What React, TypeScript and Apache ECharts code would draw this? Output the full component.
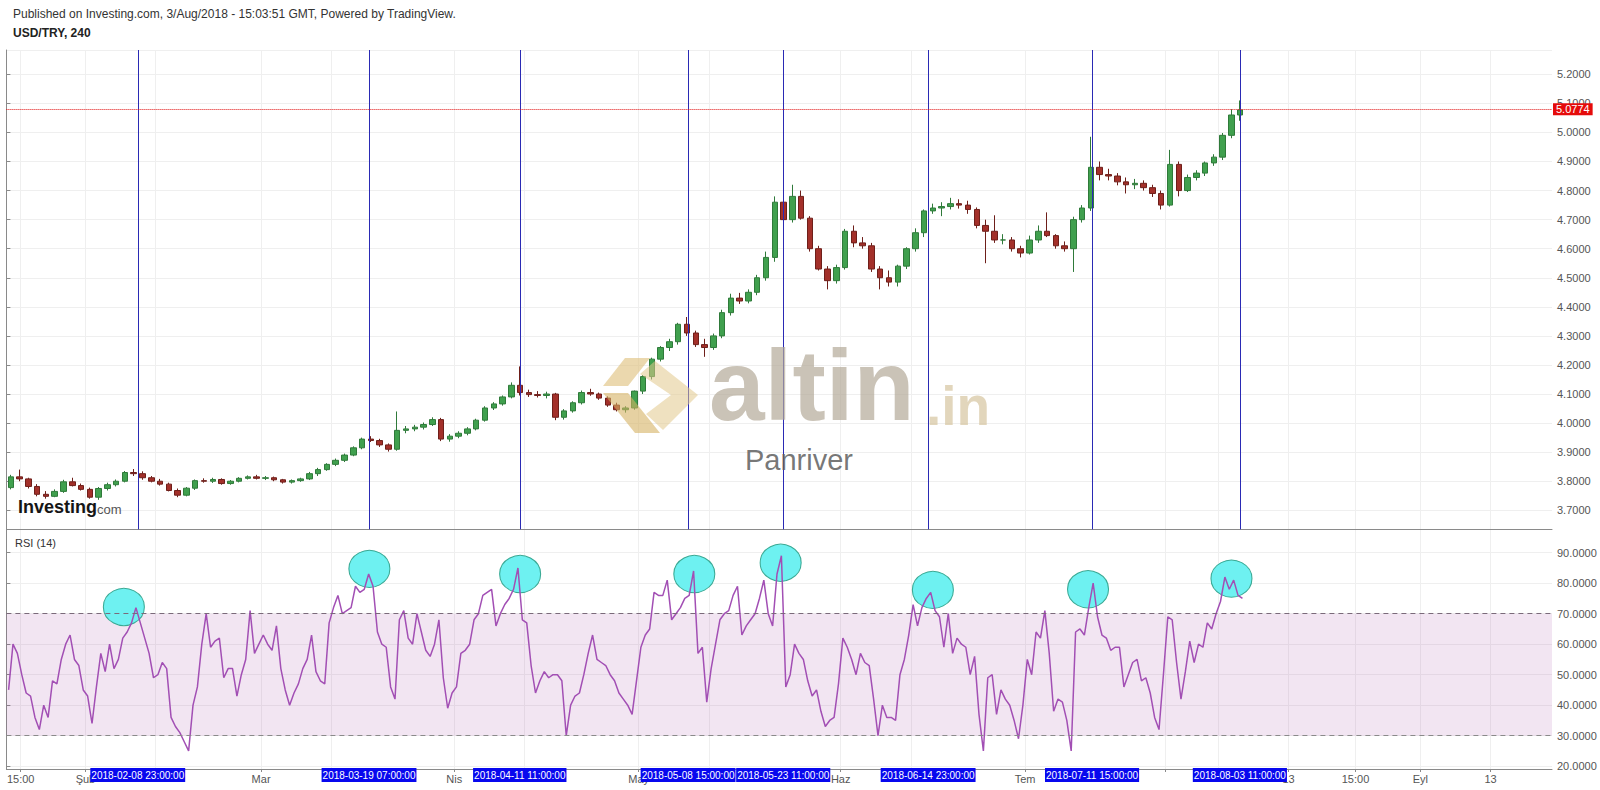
import { useEffect, useRef } from 'react';
import * as echarts from 'echarts';

const FONT = '"Liberation Sans", Arial, Helvetica, sans-serif';

// trading days (4h FX chart, weekends removed) from first bar to the end of the future space
const START_DAY = '2018-01-19';
const END_DAY = '2018-09-21';

// daily OHLC: [open, high, low, close]
const candles: [number, number, number, number][] = [
  [3.778, 3.822, 3.772, 3.815], [3.815, 3.840, 3.800, 3.808], [3.808, 3.812, 3.775, 3.782], [3.782, 3.790, 3.748, 3.755],
  [3.755, 3.766, 3.740, 3.748], [3.748, 3.772, 3.745, 3.765], [3.765, 3.805, 3.760, 3.798], [3.798, 3.812, 3.782, 3.785],
  [3.785, 3.792, 3.768, 3.772], [3.772, 3.778, 3.740, 3.745], [3.745, 3.780, 3.736, 3.775], [3.775, 3.795, 3.768, 3.788],
  [3.788, 3.806, 3.782, 3.800], [3.800, 3.835, 3.796, 3.830], [3.830, 3.842, 3.818, 3.826], [3.826, 3.834, 3.805, 3.812],
  [3.812, 3.818, 3.796, 3.800], [3.800, 3.808, 3.785, 3.790], [3.790, 3.795, 3.765, 3.768], [3.768, 3.775, 3.745, 3.752],
  [3.752, 3.780, 3.748, 3.776], [3.776, 3.806, 3.770, 3.802], [3.802, 3.810, 3.795, 3.800], [3.800, 3.812, 3.794, 3.806],
  [3.806, 3.810, 3.788, 3.792], [3.792, 3.804, 3.788, 3.800], [3.800, 3.814, 3.796, 3.810], [3.810, 3.820, 3.806, 3.815],
  [3.815, 3.822, 3.806, 3.810], [3.810, 3.818, 3.804, 3.812], [3.812, 3.816, 3.800, 3.805], [3.805, 3.808, 3.792, 3.797],
  [3.797, 3.806, 3.792, 3.802], [3.802, 3.812, 3.798, 3.808], [3.808, 3.832, 3.804, 3.826], [3.826, 3.846, 3.818, 3.840],
  [3.840, 3.862, 3.836, 3.858], [3.858, 3.878, 3.852, 3.872], [3.872, 3.895, 3.866, 3.890], [3.890, 3.920, 3.886, 3.915],
  [3.915, 3.950, 3.910, 3.945], [3.945, 3.955, 3.935, 3.940], [3.940, 3.946, 3.918, 3.925], [3.925, 3.930, 3.902, 3.910],
  [3.910, 4.040, 3.905, 3.975], [3.975, 3.990, 3.965, 3.980], [3.980, 3.994, 3.972, 3.986], [3.986, 4.002, 3.978, 3.995],
  [3.995, 4.020, 3.990, 4.012], [4.012, 4.018, 3.938, 3.945], [3.945, 3.962, 3.936, 3.955], [3.955, 3.972, 3.948, 3.965],
  [3.965, 3.986, 3.958, 3.980], [3.980, 4.015, 3.975, 4.010], [4.010, 4.058, 4.005, 4.052], [4.052, 4.072, 4.045, 4.066],
  [4.066, 4.095, 4.060, 4.090], [4.090, 4.140, 4.085, 4.130], [4.130, 4.195, 4.095, 4.105], [4.105, 4.115, 4.090, 4.098],
  [4.098, 4.110, 4.088, 4.095], [4.095, 4.108, 4.085, 4.100], [4.100, 4.104, 4.010, 4.020], [4.020, 4.048, 4.012, 4.042],
  [4.042, 4.075, 4.036, 4.070], [4.070, 4.112, 4.064, 4.105], [4.105, 4.118, 4.094, 4.100], [4.100, 4.105, 4.080, 4.086],
  [4.086, 4.092, 4.056, 4.062], [4.062, 4.070, 4.040, 4.046], [4.046, 4.058, 4.036, 4.052], [4.052, 4.112, 4.046, 4.110],
  [4.110, 4.165, 4.100, 4.160], [4.160, 4.225, 4.150, 4.220], [4.220, 4.265, 4.212, 4.260], [4.260, 4.290, 4.248, 4.280],
  [4.280, 4.345, 4.270, 4.340], [4.340, 4.365, 4.300, 4.310], [4.310, 4.318, 4.262, 4.270], [4.270, 4.290, 4.228, 4.260],
  [4.260, 4.308, 4.252, 4.300], [4.300, 4.390, 4.292, 4.380], [4.380, 4.445, 4.370, 4.430], [4.430, 4.448, 4.410, 4.420],
  [4.420, 4.460, 4.412, 4.450], [4.450, 4.510, 4.440, 4.500], [4.500, 4.590, 4.490, 4.570], [4.570, 4.780, 4.555, 4.760],
  [4.760, 4.930, 4.560, 4.700], [4.700, 4.820, 4.690, 4.780], [4.780, 4.800, 4.700, 4.705], [4.705, 4.712, 4.590, 4.600],
  [4.600, 4.610, 4.525, 4.530], [4.530, 4.540, 4.460, 4.490], [4.490, 4.545, 4.480, 4.535], [4.535, 4.668, 4.528, 4.660],
  [4.660, 4.680, 4.605, 4.620], [4.620, 4.640, 4.600, 4.610], [4.610, 4.620, 4.520, 4.530], [4.530, 4.540, 4.460, 4.500],
  [4.500, 4.525, 4.470, 4.485], [4.485, 4.545, 4.470, 4.540], [4.540, 4.605, 4.530, 4.600], [4.600, 4.670, 4.590, 4.655],
  [4.655, 4.735, 4.640, 4.730], [4.730, 4.755, 4.720, 4.740], [4.740, 4.760, 4.712, 4.745], [4.745, 4.775, 4.735, 4.755],
  [4.755, 4.770, 4.738, 4.750], [4.750, 4.765, 4.720, 4.735], [4.735, 4.742, 4.670, 4.680], [4.680, 4.700, 4.550, 4.660],
  [4.660, 4.715, 4.620, 4.630], [4.630, 4.650, 4.615, 4.630], [4.630, 4.640, 4.590, 4.600], [4.600, 4.610, 4.570, 4.585],
  [4.585, 4.645, 4.580, 4.630], [4.630, 4.680, 4.620, 4.660], [4.660, 4.725, 4.640, 4.645], [4.645, 4.650, 4.600, 4.610],
  [4.610, 4.625, 4.590, 4.600], [4.600, 4.710, 4.520, 4.700], [4.700, 4.750, 4.690, 4.740], [4.740, 4.985, 4.730, 4.880],
  [4.880, 4.900, 4.835, 4.855], [4.855, 4.875, 4.835, 4.850], [4.850, 4.860, 4.818, 4.830], [4.830, 4.845, 4.790, 4.820],
  [4.820, 4.840, 4.805, 4.825], [4.825, 4.835, 4.800, 4.810], [4.810, 4.820, 4.778, 4.790], [4.790, 4.800, 4.735, 4.750],
  [4.750, 4.940, 4.745, 4.890], [4.890, 4.900, 4.780, 4.800], [4.800, 4.855, 4.795, 4.845], [4.845, 4.870, 4.835, 4.860],
  [4.860, 4.900, 4.850, 4.895], [4.895, 4.925, 4.885, 4.915], [4.915, 4.998, 4.905, 4.990], [4.990, 5.080, 4.980, 5.060],
  [5.060, 5.110, 5.040, 5.0774],
];

// RSI(14), two readings per trading day
const rsi: number[] = [
  45, 60, 57, 50, 44, 43, 36, 32, 40, 36, 48, 47, 55, 60, 63, 55, 53, 45, 43, 34,
  46, 57, 51, 60, 52, 55, 62, 64, 67, 72, 67, 62, 57, 49, 50, 54, 52, 36, 33, 31,
  28, 25, 40, 46, 60, 70, 59, 61, 62, 49, 52, 52, 43, 50, 55, 71, 57, 60, 63, 60,
  58, 66, 52, 45, 40, 44, 47, 52, 55, 63, 51, 48, 47, 67, 72, 76, 70, 71, 72, 79,
  77, 78, 83, 79, 64, 60, 59, 46, 42, 68, 71, 62, 60, 70, 64, 58, 56, 60, 68, 49,
  39, 44, 46, 57, 58, 60, 68, 70, 76, 77, 78, 66, 70, 73, 75, 78, 85, 68, 67, 53,
  44, 48, 51, 49, 50, 50, 48, 30, 40, 43, 44, 50, 57, 63, 55, 54, 53, 50, 48, 44,
  42, 40, 37, 48, 59, 63, 65, 77, 76, 76, 81, 68, 70, 72, 75, 76, 84, 57, 59, 41,
  52, 60, 68, 70, 71, 76, 79, 63, 66, 68, 70, 75, 81, 70, 66, 83, 89, 46, 50, 60,
  57, 55, 48, 43, 45, 38, 33, 35, 36, 47, 62, 59, 55, 50, 57, 54, 53, 42, 30, 40,
  36, 36, 35, 50, 55, 63, 73, 66, 72, 75, 77, 71, 69, 59, 70, 57, 62, 60, 59, 50,
  56, 37, 25, 49, 50, 37, 45, 42, 40, 35, 29, 40, 55, 50, 64, 62, 71, 57, 38, 42,
  41, 35, 25, 64, 65, 63, 72, 80, 69, 63, 62, 58, 59, 59, 46, 50, 54, 55, 48, 49,
  44, 36, 32, 50, 69, 68, 54, 42, 51, 61, 54, 60, 59, 67, 65, 70, 74, 82, 78, 81,
  76, 75.0434,
];

// time-axis labels: [day, hour, text]
const timeLabels: [string, number, string][] = [
  ['2018-01-22', 15, '15:00'], ['2018-02-01', 0, 'Şub'], ['2018-03-01', 0, 'Mar'], ['2018-04-02', 0, 'Nis'],
  ['2018-05-01', 0, 'May'], ['2018-06-01', 0, 'Haz'], ['2018-07-02', 0, 'Tem'],
  ['2018-08-13', 0, '13'], ['2018-08-22', 15, '15:00'], ['2018-09-03', 0, 'Eyl'], ['2018-09-13', 0, '13'],
];
// extra vertical grid positions
const gridMarks: [string, number][] = [
  ['2018-02-13', 0], ['2018-03-13', 0], ['2018-04-12', 0], ['2018-05-11', 0], ['2018-06-13', 0], ['2018-07-24', 0],
  ['2018-08-01', 0],
];
// highlighted bars (vertical blue lines + blue time labels): [day, hour]
const markedBars: [string, number][] = [
  ['2018-02-08', 23], ['2018-03-19', 7], ['2018-04-11', 11], ['2018-05-08', 15],
  ['2018-05-23', 11], ['2018-06-14', 23], ['2018-07-11', 15], ['2018-08-03', 11],
];
// cyan ellipses on RSI peaks: [day, hour, rsi]
const rsiCircles: [string, number, number][] = [
  ['2018-02-07', 9, 72.2], ['2018-03-19', 8, 84.7], ['2018-04-11', 12, 83.0], ['2018-05-09', 8, 83.0],
  ['2018-05-23', 4, 86.7], ['2018-06-15', 12, 77.8], ['2018-07-11', 4, 78.0], ['2018-08-02', 12, 81.5],
];

function tradingDays(start: string, end: string): string[] {
  const out: string[] = [];
  const t0 = Date.parse(start + 'T00:00:00Z');
  const t1 = Date.parse(end + 'T00:00:00Z');
  for (let t = t0; t <= t1; t += 86400000) {
    const d = new Date(t);
    const wd = d.getUTCDay();
    if (wd !== 0 && wd !== 6) out.push(d.toISOString().slice(0, 10));
  }
  return out;
}

const days = tradingDays(START_DAY, END_DAY);
const dayPos = (day: string, hour: number) => days.indexOf(day) + hour / 24;

export default function App() {
  const ref = useRef<HTMLDivElement>(null);

  useEffect(() => {
    if (!ref.current) return;
    const chart = echarts.init(ref.current, null, { renderer: 'svg' });

    const nDays = days.length;
    const lastClose = candles[candles.length - 1][3];
    const lastRsi = rsi[rsi.length - 1];

    const labelList = timeLabels.map(([d, h, t]) => ({ v: dayPos(d, h), t }));
    const gridValues = [...labelList.map((l) => l.v), ...gridMarks.map(([d, h]) => dayPos(d, h))].sort((a, b) => a - b);
    const blueList = markedBars.map(([d, h]) => ({ v: dayPos(d, h), t: `${d} ${String(h).padStart(2, '0')}:00:00` }));

    const candleData = candles.map(([o, h, l, c], i) => [i + 0.5, o, c, l, h]);
    const rsiData = rsi.map((v, j) => [j / 2 + 0.25, v]);
    const circleData = rsiCircles.map(([d, h, v]) => [dayPos(d, h), v]);

    const splitLine = { show: true, lineStyle: { color: '#efefef', width: 1 } };
    const axisLineStyle = { color: '#8a8a8a', width: 1 };

    const option: any = {
      animation: false,
      backgroundColor: '#ffffff',
      textStyle: { fontFamily: FONT },
      grid: [
        { left: 6.4, right: 48, top: 50, height: 479.3, containLabel: false },
        { left: 6.4, right: 48, top: 529.3, height: 239.7, containLabel: false },
      ],
      xAxis: [
        {
          type: 'value', gridIndex: 0, min: 0, max: nDays, position: 'bottom',
          axisLine: { show: true, lineStyle: axisLineStyle },
          axisTick: { show: false, customValues: gridValues },
          axisLabel: { show: false },
          splitLine,
        },
        {
          type: 'value', gridIndex: 1, min: 0, max: nDays, position: 'bottom',
          axisLine: { show: true, lineStyle: axisLineStyle },
          axisTick: { show: true, length: 3, customValues: gridValues, lineStyle: axisLineStyle },
          axisLabel: {
            show: true, customValues: labelList.map((l) => l.v), margin: 4, fontSize: 11, color: '#555',
            fontFamily: FONT,
            formatter: (v: number) => {
              const f = labelList.find((l) => Math.abs(l.v - v) < 1e-6);
              return f ? f.t : '';
            },
          },
          splitLine,
        },
        {
          type: 'value', gridIndex: 1, min: 0, max: nDays, position: 'bottom', z: 10,
          axisLine: { show: false }, axisTick: { show: false }, splitLine: { show: false },
          axisLabel: {
            show: true, customValues: blueList.map((l) => l.v), margin: 0,
            formatter: (v: number) => {
              const f = blueList.find((l) => Math.abs(l.v - v) < 1e-6);
              return f ? `{b|${f.t}}` : '';
            },
            rich: {
              b: { backgroundColor: '#0808ee', color: '#ffffff', fontSize: 10, lineHeight: 12, padding: [2, 1, 2, 1], fontFamily: FONT },
            },
          },
        },
      ],
      yAxis: [
        {
          type: 'value', gridIndex: 0, position: 'right', min: 3.6346, max: 5.2836,
          minInterval: 0.1, maxInterval: 0.1, splitNumber: 17,
          axisLine: { show: true, lineStyle: axisLineStyle },
          axisTick: { show: true, length: 4, lineStyle: axisLineStyle },
          axisLabel: {
            show: true, margin: 5, fontSize: 11, color: '#555', fontFamily: FONT,
            showMinLabel: false, showMaxLabel: false,
            formatter: (v: number) => v.toFixed(4),
          },
          splitLine,
        },
        {
          type: 'value', gridIndex: 1, position: 'right', min: 19.08, max: 97.67,
          minInterval: 10, maxInterval: 10, splitNumber: 8,
          axisLine: { show: true, lineStyle: axisLineStyle },
          axisTick: { show: true, length: 4, lineStyle: axisLineStyle },
          axisLabel: {
            show: true, margin: 5, fontSize: 11, color: '#555', fontFamily: FONT,
            showMinLabel: false, showMaxLabel: false,
            formatter: (v: number) => v.toFixed(4),
          },
          splitLine,
        },
      ],
      series: [
        {
          type: 'candlestick', name: 'USD/TRY', xAxisIndex: 0, yAxisIndex: 0,
          barWidth: 6,
          data: candleData,
          itemStyle: { color: '#40a04e', color0: '#a3302a', borderColor: '#2f7a3a', borderColor0: '#6e1f1a', borderWidth: 1 },
          markLine: {
            silent: true, symbol: ['none', 'none'], animation: false,
            data: [
              ...blueList.map((b) => ({
                xAxis: b.v, label: { show: false },
                lineStyle: { color: '#2a2ab4', width: 1, type: 'solid' },
              })),
              {
                yAxis: lastClose,
                lineStyle: { color: '#e01010', width: 1, type: 'dotted' },
                label: {
                  show: true, position: 'end', distance: 1, formatter: lastClose.toFixed(4),
                  color: '#ffffff', backgroundColor: '#e50b0b', padding: [1, 3, 0, 3], fontSize: 11, fontFamily: FONT,
                },
              },
            ],
          },
        },
        {
          type: 'scatter', name: 'peaks', xAxisIndex: 1, yAxisIndex: 1, z: 2,
          symbol: 'circle', symbolSize: [41, 37], silent: true,
          data: circleData,
          itemStyle: { color: '#6ef1f1', borderColor: '#3aa994', borderWidth: 1, opacity: 1 },
        },
        {
          type: 'line', name: 'RSI (14)', xAxisIndex: 1, yAxisIndex: 1, z: 3,
          data: rsiData, symbol: 'none', showSymbol: false,
          lineStyle: { color: '#a24fb4', width: 1.5 },
          markArea: {
            silent: true,
            itemStyle: { color: 'rgba(150, 40, 150, 0.12)' },
            data: [[{ yAxis: 30 }, { yAxis: 70 }]],
          },
          markLine: {
            silent: true, symbol: ['none', 'none'], animation: false,
            data: [
              { yAxis: 70, label: { show: false }, lineStyle: { color: '#7a6a7a', type: [5, 4], width: 1 } },
              { yAxis: 30, label: { show: false }, lineStyle: { color: '#8a8a8a', type: [5, 4], width: 1 } },
              {
                yAxis: lastRsi, lineStyle: { opacity: 0, width: 0 },
                label: {
                  show: true, position: 'end', distance: 1, formatter: lastRsi.toFixed(4),
                  color: '#ffffff', backgroundColor: '#8c0f94', padding: [1, 3, 0, 3], fontSize: 11, fontFamily: FONT,
                },
              },
            ],
          },
        },
      ],
      graphic: [
        { type: 'text', left: 13, top: 8, z: 100, style: { text: 'Published on Investing.com, 3/Aug/2018 - 15:03:51 GMT, Powered by TradingView.', font: `12px ${FONT}`, fill: '#333' } },
        { type: 'text', left: 13, top: 27, z: 100, style: { text: 'USD/TRY, 240', font: `bold 12px ${FONT}`, fill: '#222' } },
        { type: 'text', left: 15, top: 537, z: 100, style: { text: 'RSI (14)', font: `11px ${FONT}`, fill: '#333' } },
        { type: 'text', left: 18, top: 498, z: 100, style: { text: 'Investing', font: `bold 18px ${FONT}`, fill: '#151515' } },
        { type: 'text', left: 97, top: 503, z: 100, style: { text: 'com', font: `13px ${FONT}`, fill: '#555' } },
        // watermark
        { type: 'polygon', z: 50, shape: { points: [[625, 358], [650, 358], [628, 386], [603, 386]] }, style: { fill: 'rgba(222, 190, 120, 0.6)' } },
        { type: 'polygon', z: 50, shape: { points: [[603, 393], [628, 393], [660, 433], [635, 433]] }, style: { fill: 'rgba(214, 178, 100, 0.6)' } },
        { type: 'polygon', z: 50, shape: { points: [[655, 361], [698, 395], [663, 430], [646, 414], [671, 395], [640, 374]] }, style: { fill: 'rgba(226, 200, 140, 0.55)' } },
        { type: 'text', z: 50, left: 709, top: 335, style: { text: 'altin', font: `bold 100px ${FONT}`, fill: 'rgba(180, 170, 152, 0.7)' } },
        { type: 'text', z: 50, left: 926, top: 378, style: { text: '.in', font: `bold 55px ${FONT}`, fill: 'rgba(214, 196, 160, 0.7)' } },
        { type: 'text', z: 50, left: 745, top: 445, style: { text: 'Panriver', font: `29px ${FONT}`, fill: 'rgba(95, 95, 95, 0.85)' } },
      ],
    };

    chart.setOption(option);
    return () => chart.dispose();
  }, []);

  return <div ref={ref} style={{ position: 'absolute', left: 0, top: 0, width: '1600px', height: '790px' }} />;
}
